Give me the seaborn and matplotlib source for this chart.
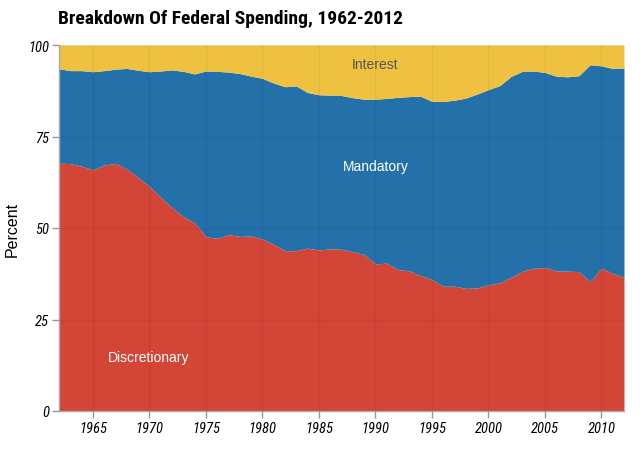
import matplotlib
matplotlib.use("Agg")
import matplotlib.pyplot as plt
import seaborn as sns
import numpy as np

years = list(range(1962, 2013))
discretionary = [67.7, 67.6, 66.9, 65.9, 67.2, 67.7, 66.1, 63.8, 61.4, 58.4, 55.6, 53.1, 51.4,
                 47.6, 47.2, 48.2, 47.7, 47.8, 47.0, 45.5, 43.8, 43.8, 44.5, 44.0, 44.3, 44.2,
                 43.5, 42.8, 40.2, 40.4, 38.6, 38.3, 37.0, 35.9, 34.1, 34.1, 33.5, 33.6, 34.5,
                 35.0, 36.5, 38.2, 39.0, 39.2, 38.3, 38.2, 38.1, 35.3, 39.0, 37.6, 36.5]
mandatory = [25.8, 25.4, 26.1, 26.8, 25.8, 25.7, 27.5, 29.3, 31.3, 34.5, 37.6, 39.7, 40.7,
             45.3, 45.6, 44.4, 44.5, 43.7, 43.9, 44.1, 44.8, 45.0, 42.5, 42.4, 42.0, 42.0,
             42.1, 42.4, 45.0, 45.0, 47.1, 47.6, 49.0, 48.7, 50.5, 50.8, 52.0, 53.0, 53.3,
             53.9, 54.9, 54.6, 53.9, 53.3, 53.2, 53.1, 53.5, 59.3, 55.3, 56.0, 57.2]
interest = [6.5, 7.0, 7.0, 7.3, 7.0, 6.6, 6.4, 6.9, 7.3, 7.1, 6.8, 7.2, 7.9,
            7.1, 7.2, 7.4, 7.8, 8.5, 9.1, 10.4, 11.4, 11.2, 13.0, 13.6, 13.7, 13.8,
            14.4, 14.8, 14.8, 14.6, 14.3, 14.1, 14.0, 15.4, 15.4, 15.1, 14.5, 13.4, 12.2,
            11.1, 8.6, 7.2, 7.1, 7.5, 8.5, 8.7, 8.4, 5.4, 5.7, 6.4, 6.3]
series_names = ["Discretionary", "Mandatory", "Interest"]
colors = ["#d34637", "#2470a8", "#eec240"]
x_ticks = [1965, 1970, 1975, 1980, 1985, 1990, 1995, 2000, 2005, 2010]
y_ticks = [0, 25, 50, 75, 100]

sns.set_theme(style="white")
plt.rcParams["font.family"] = ["Liberation Sans", "DejaVu Sans"]

fig = plt.figure(figsize=(6.43, 4.60), dpi=100)
ax = fig.add_axes([59/643, 48/460, 565/643, 366/460])

ax.stackplot(years, discretionary, mandatory, interest, colors=colors,
             labels=series_names, linewidth=0)

ax.set_xlim(1962, 2012)
ax.set_ylim(0, 100)
ax.set_xticks(x_ticks)
ax.set_yticks(y_ticks)

cond = ["Roboto Condensed", "Archivo Narrow", "Liberation Sans", "DejaVu Sans"]
for lab in ax.get_xticklabels() + ax.get_yticklabels():
    lab.set_family(cond)
    lab.set_style("italic")
    lab.set_fontsize(10.5)
    lab.set_color("black")

ax.tick_params(axis="both", which="both", direction="out", length=5, width=1,
               color="#999999", bottom=True, left=True, pad=2)
for side in ["top", "right"]:
    ax.spines[side].set_visible(False)
for side in ["left", "bottom"]:
    ax.spines[side].set_color("#aaaaaa")
    ax.spines[side].set_linewidth(1)

ax.grid(True, color="black", alpha=0.05, linewidth=1)
ax.set_axisbelow(False)

ax.set_ylabel("Percent", fontsize=11.5, labelpad=6, color="black")
ax.set_xlabel("")

ax.text(1969.9, 14.8, "Discretionary", color="white", fontsize=10, ha="center", va="center")
ax.text(1990.0, 66.9, "Mandatory", color="white", fontsize=10, ha="center", va="center")
ax.text(1990.0, 94.8, "Interest", color="#555555", fontsize=10, ha="center", va="center")

fig.text(58/643, 1 - 19/460, "Breakdown Of Federal Spending, 1962-2012",
         family=cond, fontweight="bold", fontsize=14, ha="left", va="center", color="black")

fig.savefig("out.png", dpi=100)
